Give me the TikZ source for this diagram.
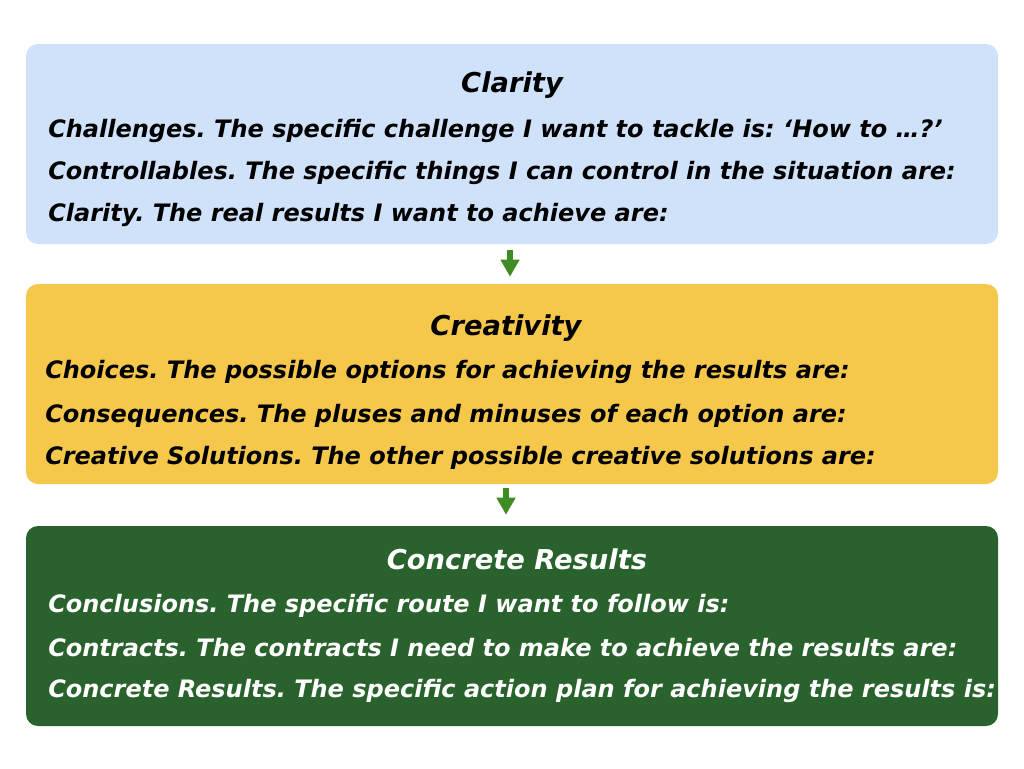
\documentclass[tikz,border=0pt]{standalone}
\usepackage{fontspec}
\setmainfont{DejaVu Sans}
\frenchspacing
\usetikzlibrary{arrows.meta}
\definecolor{clarityblue}{RGB}{208,226,250}
\definecolor{creativeyellow}{RGB}{245,200,75}
\definecolor{resultgreen}{RGB}{42,98,45}
\definecolor{arrowgreen}{RGB}{62,140,36}
\begin{document}
\begin{tikzpicture} [x=0.75pt, y=-0.75pt,
        box/.style = {rounded corners=9pt, minimum width=729pt, minimum height=150pt, inner sep=0pt},
        title/.style = {anchor=base, inner sep=0pt, font=\fontsize{20.5}{24}\selectfont\bfseries\itshape},
        line/.style = {anchor=base west, inner sep=0pt, font=\fontsize{18}{22}\selectfont\bfseries\itshape},
        flow/.style = {draw=arrowgreen, line width=4.5pt, -{Triangle[width=13.5pt, length=12.75pt]}}]

            \useasboundingbox (0,0) rectangle (1024,768);

            \node[box, fill=clarityblue]    (clarity)  at (512,144) {};
            \node[box, fill=creativeyellow] (creative) at (512,384) {};
            \node[box, fill=resultgreen]    (results)  at (512,626) {};

            \node[title] (T1) at (512,92) {Clarity};
            \node[line] (L1) at (48,137) {Challenges. The specific challenge I want to tackle is: ‘How to …?’};
            \node[line] (L2) at (48,179) {Controllables. The specific things I can control in the situation are:};
            \node[line] (L3) at (48,221) {Clarity. The real results I want to achieve are:};

            \node[title] (T2) at (506,335) {Creativity};
            \node[line] (L4) at (45,378) {Choices. The possible options for achieving the results are:};
            \node[line] (L5) at (45,422) {Consequences. The pluses and minuses of each option are:};
            \node[line] (L6) at (45,464) {Creative Solutions. The other possible creative solutions are:};

            \node[title, text=white] (T3) at (517,569) {Concrete Results};
            \node[line, text=white] (L7) at (48,612) {Conclusions. The specific route I want to follow is:};
            \node[line, text=white] (L8) at (48,656) {Contracts. The contracts I need to make to achieve the results are:};
            \node[line, text=white] (L9) at (48,697) {Concrete Results. The specific action plan for achieving the results is:};

            \draw[flow, shorten <=4.5pt, shorten >=5.25pt] ([xshift=-1.5pt]clarity.south) -- ([xshift=-1.5pt]creative.north);
            \draw[flow, shorten <=3pt, shorten >=8.25pt] ([xshift=-4.5pt]creative.south) -- ([xshift=-4.5pt]results.north);
        \end{tikzpicture}
\end{document}
